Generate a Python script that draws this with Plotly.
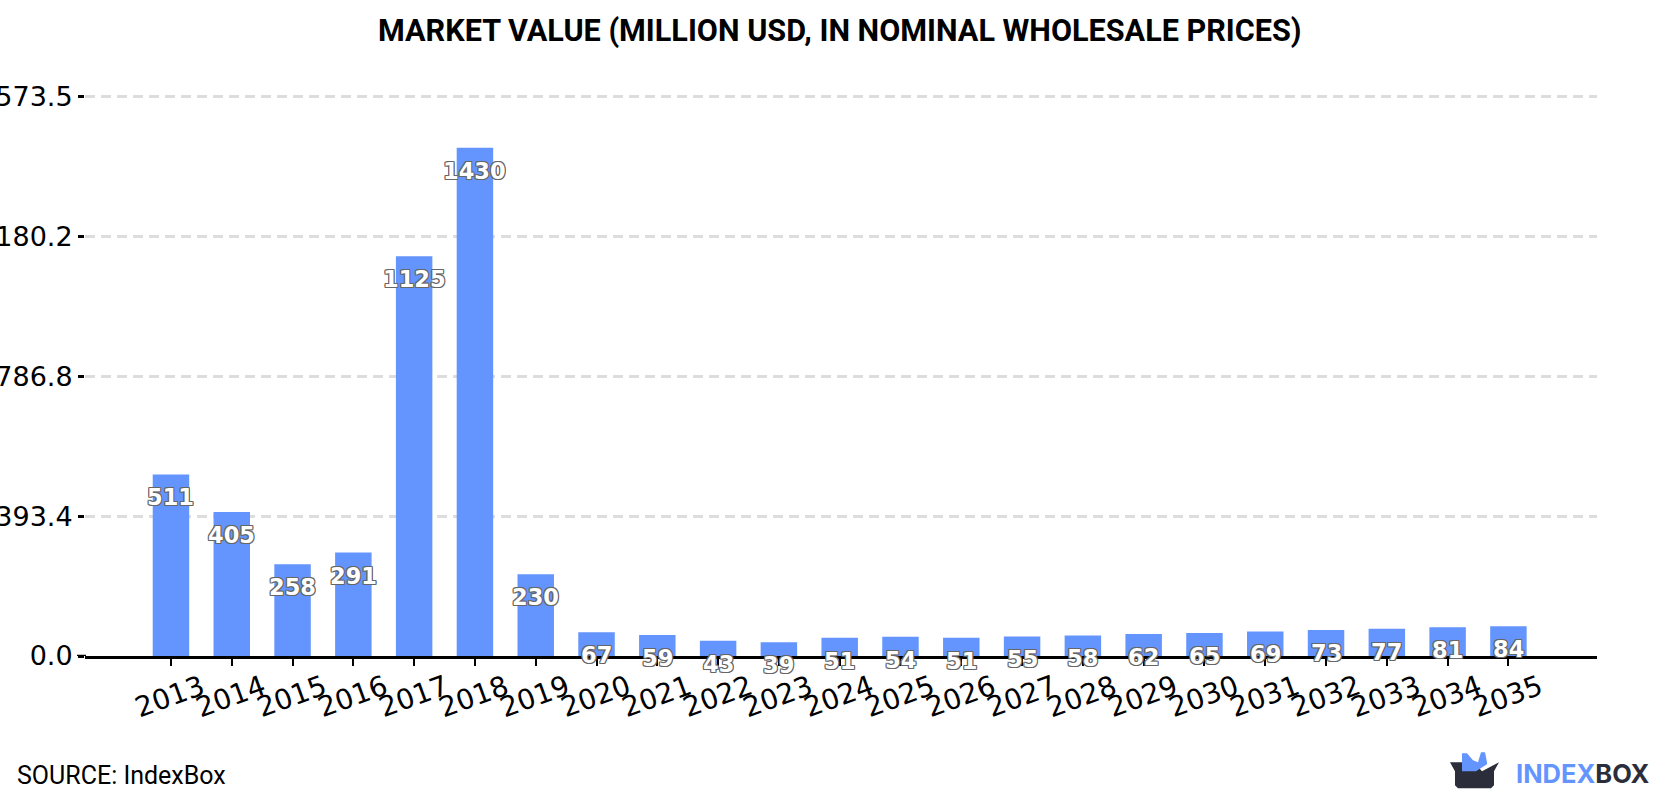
import plotly.graph_objects as go

# Annual market value series
years = [2013, 2014, 2015, 2016, 2017, 2018, 2019, 2020, 2021, 2022, 2023, 2024,
         2025, 2026, 2027, 2028, 2029, 2030, 2031, 2032, 2033, 2034, 2035]
values = [511, 405, 258, 291, 1125, 1430, 230, 67, 59, 43, 39, 51,
          54, 51, 55, 58, 62, 65, 69, 73, 77, 81, 84]
y_ticks = [0, 393.4, 786.8, 1180.2, 1573.5]
y_tick_labels = ["0.0", "393.4", "786.8", "1180.2", "1573.5"]

TITLE = "MARKET VALUE (MILLION USD, IN NOMINAL WHOLESALE PRICES)"
SOURCE = "SOURCE: IndexBox"

W, H = 1680, 800
BLUE = "#6495ff"
DARK = "#2b2d3a"
# A little headroom above the top tick keeps its gridline inside the plot area
L, R, T, B = 85, 83, 94.7, 143.5
Y_TOP = 1578.5

OUTLINE = ", ".join(f"{dx}px {dy}px 0 #666" for dx in (-1, 0, 1) for dy in (-1, 0, 1) if dx or dy)


# Page pixels to the plot-relative "paper" coordinates
def page_x(x):
    return (x - L) / (W - L - R)


def page_y(y):
    return 1 - (y - T) / (H - T - B)


def poly(points):
    return "M" + " L".join(f"{page_x(x):.5f},{page_y(y):.5f}" for x, y in points) + " Z"


fig = go.Figure(go.Bar(x=list(range(len(years))), y=values, width=0.6, marker_color=BLUE, marker_line_width=0))

annotations = []
# Value labels sit a fixed distance under each bar top
for i, value in enumerate(values):
    annotations.append(dict(
        x=i, y=value, xref="x", yref="y", text=str(value), showarrow=False, yshift=-23,
        font=dict(family="DejaVu Sans", size=22.5, color="white", weight="bold", shadow=OUTLINE),
    ))
# Slanted year labels centred under their ticks
for i, year in enumerate(years):
    annotations.append(dict(
        x=i, y=0, xref="x", yref="paper", text=str(year), showarrow=False, textangle=-20,
        yanchor="top", yshift=-10, xshift=-1,
        font=dict(family="DejaVu Sans", size=28, color="black"),
    ))
annotations += [
    dict(x=page_x(840), y=page_y(30.5), xref="paper", yref="paper", text=f"<b>{TITLE}</b>", showarrow=False,
         xanchor="center", yanchor="middle", font=dict(family="Roboto", size=30.6, color="black")),
    dict(x=page_x(15), y=page_y(776), xref="paper", yref="paper", text=SOURCE, showarrow=False,
         xanchor="left", yanchor="middle", font=dict(family="Roboto", size=25, color="black")),
    dict(x=page_x(1514), y=page_y(774), xref="paper", yref="paper", showarrow=False,
         text=f"<b><span style='color:{BLUE}'>INDEX</span>BOX</b>",
         xanchor="left", yanchor="middle", font=dict(family="Inter", size=25.5, color=DARK)),
]

# Box-shaped brand mark next to the wordmark
logo_crown = [(1462, 772), (1462, 754), (1467, 754), (1473, 761), (1478, 763), (1481, 753), (1485, 753),
              (1487, 763), (1487, 765), (1476, 772)]
logo_box = [(1450, 763), (1474, 763), (1482, 772), (1499, 763), (1494, 772), (1494, 786), (1491, 789),
            (1458, 789), (1455, 786), (1455, 772)]
shapes = [
    dict(type="path", xref="paper", yref="paper", path=poly(logo_box), fillcolor=DARK, line_width=0, layer="above"),
    dict(type="path", xref="paper", yref="paper", path=poly(logo_crown), fillcolor=BLUE, line_width=0, layer="above"),
    # Baseline runs on past the plot edge to meet the zero tick
    dict(type="line", xref="paper", yref="y", x0=page_x(77), x1=page_x(86), y0=0, y1=0,
         line=dict(color="black", width=2.5), layer="above"),
]

fig.update_layout(
    width=W, height=H, autosize=False,
    margin=dict(l=L, r=R, t=T, b=B, pad=0),
    paper_bgcolor="white", plot_bgcolor="white",
    showlegend=False,
    xaxis=dict(range=[-1.414, 23.457], tickvals=list(range(len(years))), showgrid=False, showline=True,
               linecolor="black", linewidth=2.5, ticks="outside", ticklen=7, tickwidth=2, tickcolor="black",
               showticklabels=False, zeroline=False, fixedrange=True),
    yaxis=dict(range=[0, Y_TOP], tickvals=y_ticks, ticktext=y_tick_labels, ticks="outside", ticklen=6, tickwidth=2.5,
               tickcolor="black", showgrid=True, gridcolor="#dddddd", griddash="10px,6px", gridwidth=2.5,
               zeroline=False, showline=False, automargin=False, fixedrange=True,
               tickfont=dict(family="DejaVu Sans", size=27, color="black")),
    annotations=annotations,
    shapes=shapes,
)

fig.write_html("out.html", config=dict(displayModeBar=False))
